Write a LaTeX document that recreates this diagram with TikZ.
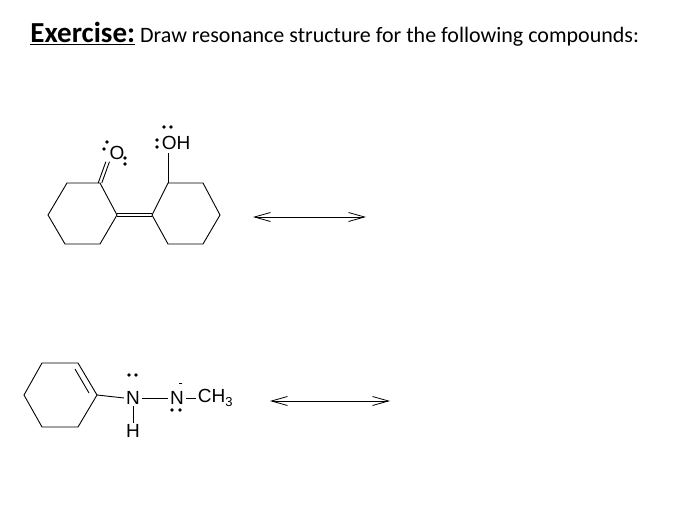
\documentclass[tikz,border=0pt]{standalone}
\usepackage{fontspec}
\setmainfont{Carlito}
\newfontfamily\chem{Liberation Sans}
\usetikzlibrary{arrows.meta}
\begin{document}
\begin{tikzpicture}[x=1pt,y=-1pt,line width=0.9pt,
  atom/.style={font=\chem\fontsize{19}{19}\selectfont,inner sep=1.5pt},
  dot/.style={fill,circle,inner sep=0pt,minimum size=3.6pt},
  resarrow/.style={line width=0.8pt,{Straight Barb[length=16pt,width=9pt]}-{Straight Barb[length=16pt,width=9pt]}}]
\useasboundingbox (0,0) rectangle (700,524);
\node[anchor=base west,inner sep=0] (title) at (30,43) {\fontsize{29}{29}\selectfont\textbf{\underline{Exercise:}}\fontsize{22}{22}\selectfont\ Draw resonance structure for the following compounds:};
% molecule 1
\coordinate (a1) at (67,183); \coordinate (a2) at (100,183); \coordinate (a3) at (117,215);
\coordinate (a4) at (100,244); \coordinate (a5) at (65,244); \coordinate (a6) at (48,215);
\coordinate (b1) at (152,215); \coordinate (b2) at (168,183); \coordinate (b3) at (203,183);
\coordinate (b4) at (220,215); \coordinate (b5) at (203,244); \coordinate (b6) at (168,244);
\draw (a1)--(a2)--(a3)--(a4)--(a5)--(a6)--cycle;
\draw (b1)--(b2)--(b3)--(b4)--(b5)--(b6)--cycle;
\draw ([yshift=-1.8]a3)--([yshift=-1.8]b1);
\draw ([yshift=1.8]a3)--([yshift=1.8]b1);
\node[atom] (O1) at (117,153) {O};
\draw ([xshift=-1.8]a2)--([xshift=-1.8]O1.south west);
\draw ([xshift=1.8]a2)--([xshift=1.8]O1.south west);
\node[dot] (d1) at (107,142) {}; \node[dot] (d2) at (104,149) {};
\node[dot] (d3) at (125,158) {}; \node[dot] (d4) at (125,164) {};
\node[atom,anchor=west] (OH) at (160,143) {OH};
\draw (b2)--(168,153);
\node[dot] (d5) at (164,127) {}; \node[dot] (d6) at (171,127) {};
\node[dot] (d7) at (157,140) {}; \node[dot] (d8) at (157,147) {};
\coordinate (r1a) at (253,217); \coordinate (r1b) at (366,217);
\draw[resarrow] (r1a)--(r1b);
% molecule 2
\coordinate (c1) at (42,363); \coordinate (c2) at (78,363); \coordinate (c3) at (97,395);
\coordinate (c4) at (78,427); \coordinate (c5) at (42,427); \coordinate (c6) at (24,395);
\draw (c1)--(c2)--(c3)--(c4)--(c5)--(c6)--cycle;
\draw (75,369)--(89,393);
\node[atom] (N1) at (133,398) {N};
\node[atom] (H) at (133,431) {H};
\node[atom] (N2) at (177,398) {N};
\node[atom,anchor=west] (CH3) at (196,398) {CH\raisebox{-0.35ex}{\fontsize{13}{13}\selectfont 3}};
\draw (c3)--(N1.west);
\draw (N1.east)--(N2.west);
\draw (N2.east)--(CH3.west);
\draw (N1.south)--(H.north);
\node[dot] (d9) at (129,375) {}; \node[dot] (d10) at (136,375) {};
\node[dot] (d11) at (172,410) {}; \node[dot] (d12) at (180,410) {};
\draw[line width=0.8pt] (179,383)--(182,383);
\coordinate (r2a) at (270,401); \coordinate (r2b) at (390,401);
\draw[resarrow] (r2a)--(r2b);
\end{tikzpicture}
\end{document}
